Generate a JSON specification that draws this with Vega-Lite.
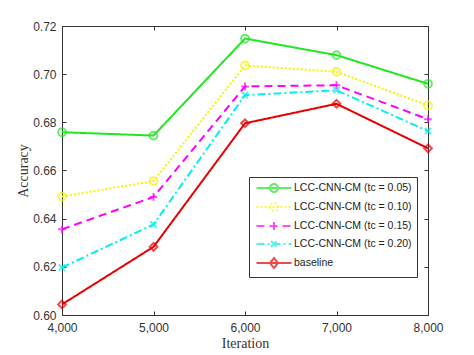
{
  "$schema": "https://vega.github.io/schema/vega-lite/v6.json",
  "width": 366,
  "height": 289,
  "autosize": "none",
  "padding": {"left": 62, "top": 26, "right": 46, "bottom": 40},
  "background": "white",
  "config": {
    "view": {"stroke": "#333333", "strokeWidth": 1},
    "axis": {"labelFont": "Liberation Sans", "labelFontSize": 12, "labelColor": "#333", "titleFont": "Liberation Serif", "titleFontSize": 14, "titleFontWeight": "normal", "titleColor": "#333", "grid": false, "domain": false, "tickColor": "#333", "tickSize": -4, "tickWidth": 1, "labelFlush": false},
    "legend": {"orient": "none", "legendX": 187, "legendY": 151, "strokeColor": "#333", "fillColor": "white", "padding": 5, "rowPadding": 3,
      "labelFont": "Liberation Sans", "labelFontSize": 10.5, "labelColor": "#222", "symbolStrokeWidth": 2, "symbolSize": 100, "symbolOffset": 14, "labelOffset": 14, "labelLimit": 200}
  },
  "data": {"values": [
    {"iter": 4000, "series": "LCC-CNN-CM (tc = 0.05)", "acc": 0.6759},
    {"iter": 5000, "series": "LCC-CNN-CM (tc = 0.05)", "acc": 0.6745},
    {"iter": 6000, "series": "LCC-CNN-CM (tc = 0.05)", "acc": 0.7148},
    {"iter": 7000, "series": "LCC-CNN-CM (tc = 0.05)", "acc": 0.7079},
    {"iter": 8000, "series": "LCC-CNN-CM (tc = 0.05)", "acc": 0.6960},
    {"iter": 4000, "series": "LCC-CNN-CM (tc = 0.10)", "acc": 0.6492},
    {"iter": 5000, "series": "LCC-CNN-CM (tc = 0.10)", "acc": 0.6556},
    {"iter": 6000, "series": "LCC-CNN-CM (tc = 0.10)", "acc": 0.7036},
    {"iter": 7000, "series": "LCC-CNN-CM (tc = 0.10)", "acc": 0.7010},
    {"iter": 8000, "series": "LCC-CNN-CM (tc = 0.10)", "acc": 0.6870},
    {"iter": 4000, "series": "LCC-CNN-CM (tc = 0.15)", "acc": 0.6356},
    {"iter": 5000, "series": "LCC-CNN-CM (tc = 0.15)", "acc": 0.6490},
    {"iter": 6000, "series": "LCC-CNN-CM (tc = 0.15)", "acc": 0.6949},
    {"iter": 7000, "series": "LCC-CNN-CM (tc = 0.15)", "acc": 0.6954},
    {"iter": 8000, "series": "LCC-CNN-CM (tc = 0.15)", "acc": 0.6813},
    {"iter": 4000, "series": "LCC-CNN-CM (tc = 0.20)", "acc": 0.6197},
    {"iter": 5000, "series": "LCC-CNN-CM (tc = 0.20)", "acc": 0.6376},
    {"iter": 6000, "series": "LCC-CNN-CM (tc = 0.20)", "acc": 0.6913},
    {"iter": 7000, "series": "LCC-CNN-CM (tc = 0.20)", "acc": 0.6933},
    {"iter": 8000, "series": "LCC-CNN-CM (tc = 0.20)", "acc": 0.6764},
    {"iter": 4000, "series": "baseline", "acc": 0.6044},
    {"iter": 5000, "series": "baseline", "acc": 0.6283},
    {"iter": 6000, "series": "baseline", "acc": 0.6796},
    {"iter": 7000, "series": "baseline", "acc": 0.6877},
    {"iter": 8000, "series": "baseline", "acc": 0.6692}
  ]},
  "layer": [
    {
      "mark": {"type": "line", "strokeWidth": 2},
      "encoding": {
        "x": {"field": "iter", "type": "quantitative", "scale": {"domain": [4000, 8000], "nice": false}, "axis": {"title": "Iteration", "values": [4000, 5000, 6000, 7000, 8000], "format": ",d", "labelPadding": 11, "titlePadding": 3}},
        "y": {"field": "acc", "type": "quantitative", "scale": {"domain": [0.6, 0.72], "nice": false, "zero": false}, "axis": {"title": "Accuracy", "values": [0.6, 0.62, 0.64, 0.66, 0.68, 0.7, 0.72], "format": ".2f", "labelPadding": 10, "titlePadding": 2}},
        "color": {"field": "series", "type": "nominal", "title": null, "scale": {"domain": ["LCC-CNN-CM (tc = 0.05)", "LCC-CNN-CM (tc = 0.10)", "LCC-CNN-CM (tc = 0.15)", "LCC-CNN-CM (tc = 0.20)", "baseline"], "range": ["#22e622", "#f5f500", "#ff00ff", "#00f0f0", "#e60000"]}},
        "strokeDash": {"field": "series", "type": "nominal", "title": null, "scale": {"domain": ["LCC-CNN-CM (tc = 0.05)", "LCC-CNN-CM (tc = 0.10)", "LCC-CNN-CM (tc = 0.15)", "LCC-CNN-CM (tc = 0.20)", "baseline"], "range": [[1, 0], [2, 2], [8, 5], [8, 3, 2, 3], [1, 0]]}}
      }
    },
    {
      "transform": [{"filter": {"field": "series", "oneOf": ["LCC-CNN-CM (tc = 0.05)", "LCC-CNN-CM (tc = 0.10)"]}}],
      "mark": {"type": "point", "filled": false, "strokeWidth": 2, "size": 60, "shape": "circle"},
      "encoding": {
        "x": {"field": "iter", "type": "quantitative", "axis": null},
        "y": {"field": "acc", "type": "quantitative", "axis": null},
        "color": {"field": "series", "type": "nominal", "title": null}
      }
    },
    {
      "transform": [{"filter": {"field": "series", "equal": "LCC-CNN-CM (tc = 0.15)"}}],
      "mark": {"type": "point", "filled": false, "strokeWidth": 2, "size": 60, "shape": "M-1,0L1,0M0,-1L0,1"},
      "encoding": {
        "x": {"field": "iter", "type": "quantitative", "axis": null},
        "y": {"field": "acc", "type": "quantitative", "axis": null},
        "color": {"field": "series", "type": "nominal", "title": null}
      }
    },
    {
      "transform": [{"filter": {"field": "series", "equal": "LCC-CNN-CM (tc = 0.20)"}}],
      "mark": {"type": "point", "filled": false, "strokeWidth": 2, "size": 60, "shape": "M-0.8,-0.8L0.8,0.8M-0.8,0.8L0.8,-0.8"},
      "encoding": {
        "x": {"field": "iter", "type": "quantitative", "axis": null},
        "y": {"field": "acc", "type": "quantitative", "axis": null},
        "color": {"field": "series", "type": "nominal", "title": null}
      }
    },
    {
      "transform": [{"filter": {"field": "series", "equal": "baseline"}}],
      "mark": {"type": "point", "filled": false, "strokeWidth": 2, "size": 60, "shape": "diamond"},
      "encoding": {
        "x": {"field": "iter", "type": "quantitative", "axis": null},
        "y": {"field": "acc", "type": "quantitative", "axis": null},
        "color": {"field": "series", "type": "nominal", "title": null}
      }
    },
    {
      "mark": {"type": "point", "opacity": 0},
      "encoding": {
        "x": {"field": "iter", "type": "quantitative", "axis": {"orient": "top", "labels": false, "title": null, "values": [4000, 5000, 6000, 7000, 8000]}},
        "y": {"field": "acc", "type": "quantitative", "axis": {"orient": "right", "labels": false, "title": null, "values": [0.6, 0.62, 0.64, 0.66, 0.68, 0.7, 0.72]}}
      }
    },
    {
      "transform": [{"filter": "datum.acc < 0"}],
      "mark": {"type": "point", "filled": false, "strokeWidth": 2},
      "encoding": {
        "color": {"field": "series", "type": "nominal", "title": null},
        "strokeDash": {"field": "series", "type": "nominal", "title": null},
        "shape": {"field": "series", "type": "nominal", "title": null, "scale": {
          "domain": ["LCC-CNN-CM (tc = 0.05)", "LCC-CNN-CM (tc = 0.10)", "LCC-CNN-CM (tc = 0.15)", "LCC-CNN-CM (tc = 0.20)", "baseline"],
          "range": ["M-3.5,0L3.5,0M-0.8,0A0.8,0.8 0 1,0 0.8,0A0.8,0.8 0 1,0 -0.8,0", "M-3.5,0L3.5,0M-0.8,0A0.8,0.8 0 1,0 0.8,0A0.8,0.8 0 1,0 -0.8,0", "M-3.5,0L3.5,0M0,-0.8L0,0.8", "M-3.5,0L3.5,0M-0.6,-0.6L0.6,0.6M-0.6,0.6L0.6,-0.6", "M-3.5,0L3.5,0M-0.8,0L0,-1L0.8,0L0,1Z"]}}
      }
    }
  ],
  "resolve": {
    "axis": {"x": "independent", "y": "independent"}
  }
}
